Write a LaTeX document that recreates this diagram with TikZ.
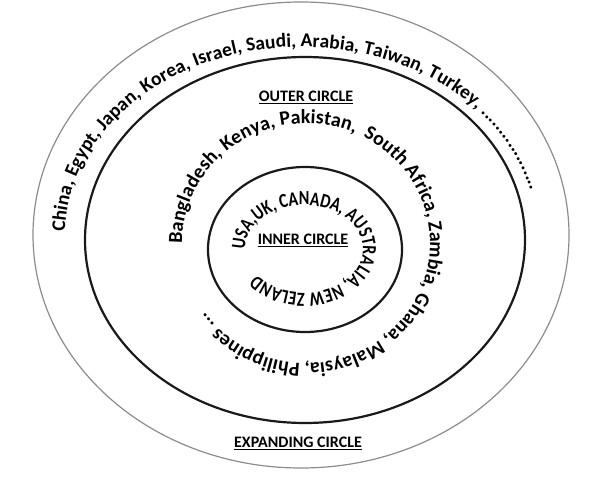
\documentclass[tikz,border=0pt]{standalone}
\usepackage{fontspec}
\setmainfont{Carlito}
\newfontfamily\squeezedfont[FakeStretch=0.8]{Carlito}
\usepackage{tikz}
\usetikzlibrary{decorations.text,positioning}

\newcommand{\countryfont}{\fontsize{19.5}{23}\selectfont\bfseries}
\newcommand{\midcountryfont}{\fontsize{20}{24}\selectfont\bfseries}
\newcommand{\corefont}{\squeezedfont\fontsize{20}{24}\selectfont\bfseries}

\begin{document}
\begin{tikzpicture}[x=1pt,y=1pt,
    ring/.style={line width=2.2pt,draw=black!90},
    faintring/.style={line width=1.2pt,draw=black!45},
    circlelabel/.style={font=\fontsize{16}{19}\selectfont\bfseries,inner sep=0pt},
    countryarc/.style={decorate,decoration={text along path,text align=left,text={#1}}}]

    \useasboundingbox (0,0) rectangle (604,480);

    \draw[faintring] (301,245) ellipse [x radius=268, y radius=233];
    \draw[ring] (305,240) ellipse [x radius=220, y radius=183];
    \draw[ring] (305,230.5) ellipse [x radius=97, y radius=82.5];

    \node (outer) [circlelabel] at (306,383) {\underline{OUTER CIRCLE}};
    \node (inner) [circlelabel] at (303,240) {\underline{INNER CIRCLE}};
    \node (expanding) [circlelabel] at (298,37) {\underline{EXPANDING CIRCLE}};

    \path[countryarc={|\countryfont|China, Egypt, Japan, Korea, Israel, Saudi, Arabia, Taiwan, Turkey, ..................}]
        (301,245) ++(179:236 and 188) arc [start angle=179, end angle=0, x radius=236, y radius=188];
    \path[countryarc={|\midcountryfont|Bangladesh, Kenya, Pakistan,{ } South Africa, Zambia, Ghana, Malaysia, Philippines ...}]
        (306,236.5) ++(180:124 and 120) arc [start angle=180, end angle=-165, x radius=124, y radius=120];
    \path[countryarc={|\corefont|USA,UK, CANADA, AUSTRALIA, NEW ZELAND}]
        (304,231) ++(181:59 and 44) arc [start angle=181, end angle=-170, x radius=59, y radius=44];

\end{tikzpicture}
\end{document}
